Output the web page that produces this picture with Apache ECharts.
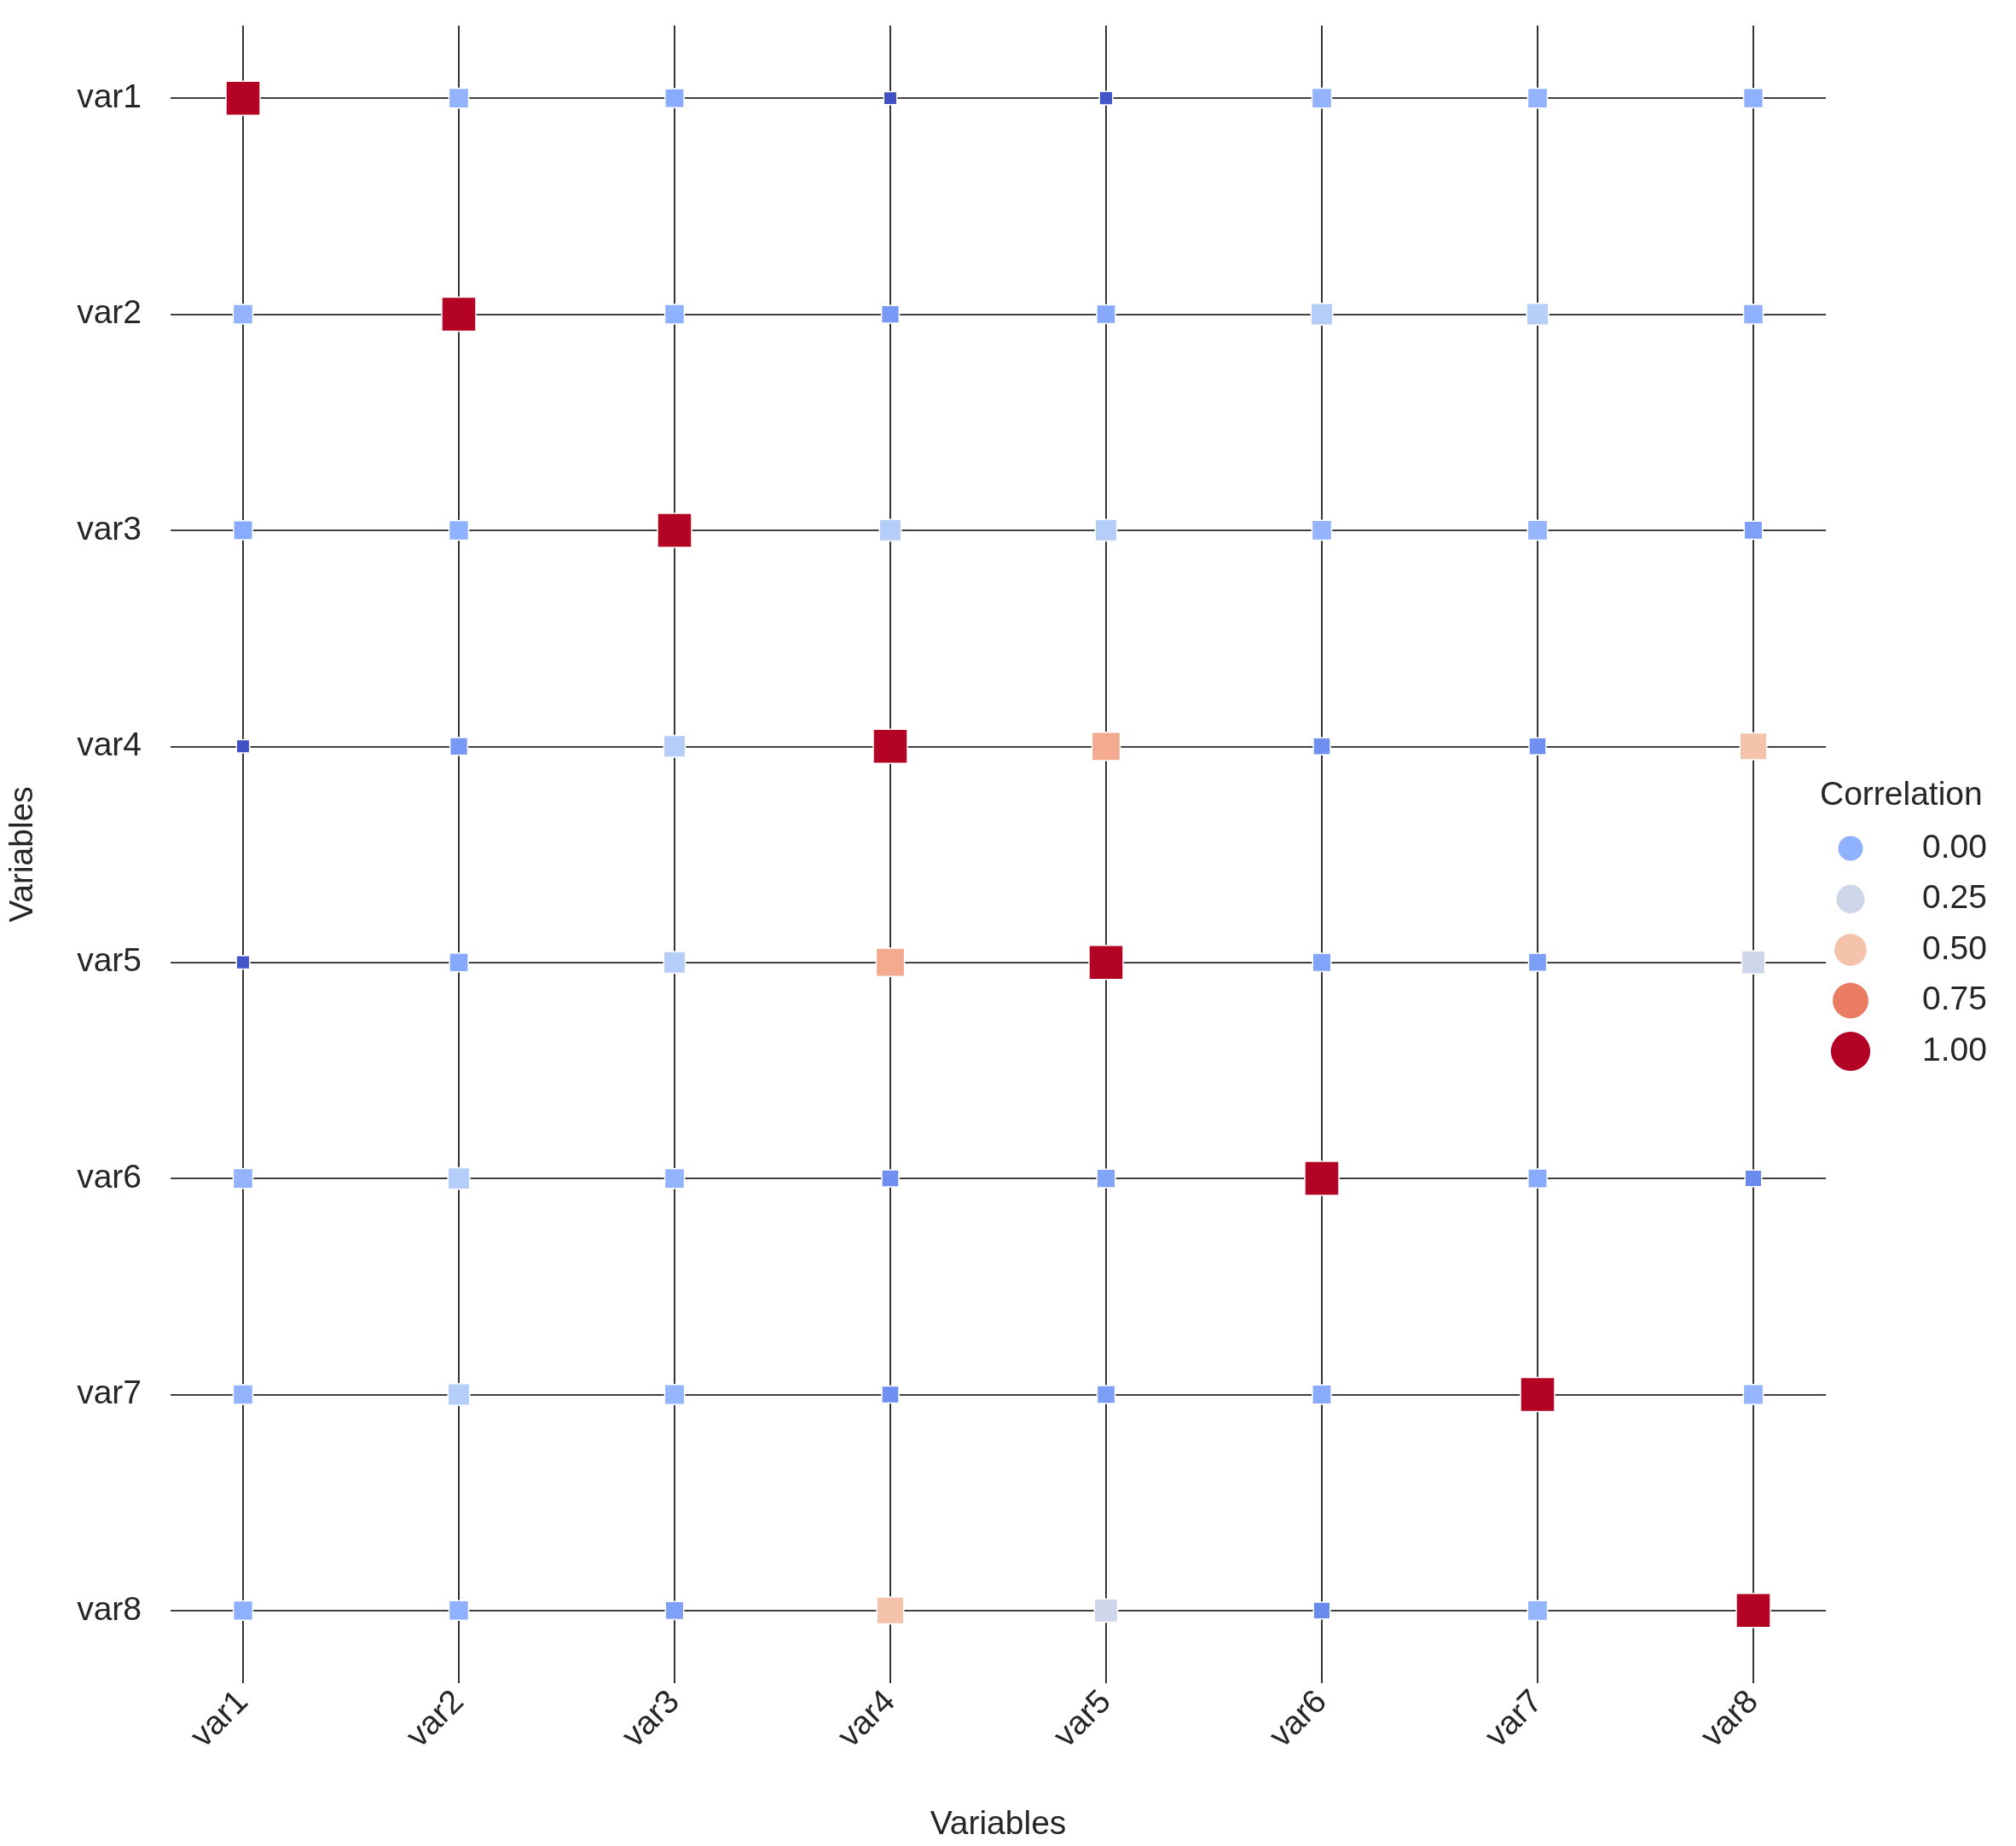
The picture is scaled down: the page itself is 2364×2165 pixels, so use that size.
<!DOCTYPE html>
<html>
<head>
<meta charset="utf-8">
<script src="https://cdn.jsdelivr.net/npm/echarts@6/dist/echarts.min.js"></script>
<style>html,body{margin:0;background:#fff}#chart{width:2364px;height:2165px}</style>
</head>
<body>
<div id="chart"></div>
<script>
// 变量名与相关系数矩阵
const variables = ['var1', 'var2', 'var3', 'var4', 'var5', 'var6', 'var7', 'var8']
const corr = [
  [1, 0.01, -0.03, -0.33, -0.32, 0.01, 0.01, -0.01],
  [0.01, 1, 0.0, -0.1, -0.04, 0.14, 0.15, 0.0],
  [-0.03, 0.0, 1, 0.14, 0.14, 0.01, 0.02, -0.07],
  [-0.33, -0.1, 0.14, 1, 0.6, -0.13, -0.13, 0.5],
  [-0.32, -0.04, 0.14, 0.6, 1, -0.06, -0.08, 0.25],
  [0.01, 0.14, 0.01, -0.13, -0.06, 1, -0.03, -0.15],
  [0.01, 0.15, 0.02, -0.13, -0.08, -0.03, 1, 0.02],
  [-0.01, 0.0, -0.07, 0.5, 0.25, -0.15, 0.02, 1]
]
const legendValues = [0, 0.25, 0.5, 0.75, 1]
const legendLabels = ['0.00', '0.25', '0.50', '0.75', '1.00']

const vMin = -0.35
const vMax = 1
const coolwarm = ['#3b4cc0', '#6282ea', '#8db0fe', '#b8d0f9', '#dddcdc', '#f5c4ad', '#f49a7b', '#de604d', '#b40426']

function hexToRgb(h) {
  return [1, 3, 5].map(i => parseInt(h.substr(i, 2), 16))
}
function colorOf(v) {
  let t = Math.max(0, Math.min(1, (v - vMin) / (vMax - vMin))) * (coolwarm.length - 1)
  let i = Math.min(Math.floor(t), coolwarm.length - 2)
  let f = t - i
  let a = hexToRgb(coolwarm[i]), b = hexToRgb(coolwarm[i + 1])
  return `rgb(${a.map((c, k) => Math.round(c + (b[k] - c) * f)).join(',')})`
}
function sizeOf(v) {
  return v < 0 ? 23 + v / 0.35 * 8 : 23 + v * 17
}

let points = []
corr.forEach((row, r) => {
  row.forEach((v, c) => {
    points.push({
      value: [c + 1, r + 1, v],
      itemStyle: { color: colorOf(v) }
    })
  })
})

const chart = echarts.init(document.getElementById('chart'))
const textColor = '#262626'
const font = 'Liberation Sans, Arial, sans-serif'

function axis(name, extra) {
  return Object.assign({
    type: 'value',
    min: 0.664,
    max: 8.336,
    name: name,
    nameLocation: 'middle',
    nameTextStyle: { fontSize: 39, color: textColor, fontFamily: font },
    axisLine: { show: false },
    axisTick: { show: false },
    splitLine: { show: false },
    axisLabel: {
      customValues: [1, 2, 3, 4, 5, 6, 7, 8],
      formatter: v => variables[Math.round(v) - 1],
      fontSize: 39,
      color: textColor,
      fontFamily: font,
      margin: 34
    }
  }, extra)
}

let legendGraphics = [{
  type: 'text', left: 2134, top: 914,
  style: { text: 'Correlation', fontSize: 39, fill: textColor, fontFamily: font }
}]
legendValues.forEach((v, i) => {
  let y = 995 + i * 59.5
  let d = 29 + i * 4.3
  legendGraphics.push({
    type: 'circle', shape: { cx: 2170, cy: y, r: d / 2 },
    style: { fill: colorOf(v) }
  })
  legendGraphics.push({
    type: 'text', x: 2330, y: y,
    style: { text: legendLabels[i], fontSize: 39, fill: textColor, fontFamily: font, align: 'right', verticalAlign: 'middle' }
  })
})

chart.setOption({
  backgroundColor: '#fff',
  animation: false,
  grid: { left: 198, right: 223, top: 30, bottom: 188 },
  xAxis: axis('Variables', {
    nameGap: 147,
    axisLabel: {
      customValues: [1, 2, 3, 4, 5, 6, 7, 8],
      formatter: v => variables[Math.round(v) - 1],
      fontSize: 39, color: textColor, fontFamily: font,
      rotate: 45, margin: 16
    }
  }),
  yAxis: axis('Variables', { inverse: true, nameGap: 153 }),
  graphic: legendGraphics,
  series: [
    {
      type: 'scatter',
      data: [],
      silent: true,
      z: 1,
      markLine: {
        silent: true,
        symbol: 'none',
        z: 1,
        label: { show: false },
        lineStyle: { color: '#000', width: 1.6, type: 'solid' },
        data: variables.map((_, i) => ({ xAxis: i + 1 }))
          .concat(variables.map((_, i) => ({ yAxis: i + 1 })))
      }
    },
    {
      type: 'scatter',
      z: 10,
      symbol: 'rect',
      symbolSize: d => sizeOf(d[2]),
      data: points,
      itemStyle: { borderColor: '#fff', borderWidth: 1.5, opacity: 1 }
    }
  ]
})
</script>
</body>
</html>
